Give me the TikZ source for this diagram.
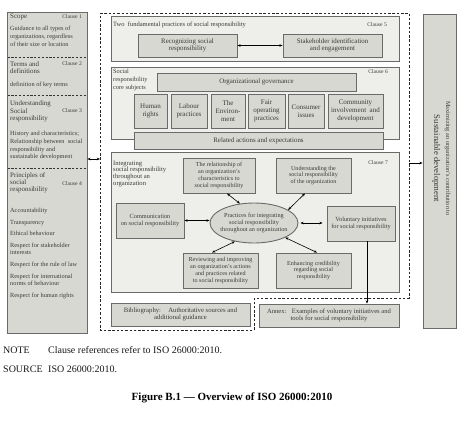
\documentclass[tikz,border=0pt]{standalone}
\usepackage{fontspec}
\setmainfont{Liberation Serif}
\usetikzlibrary{arrows.meta,shapes.geometric}
\definecolor{boxfill}{HTML}{D8D8D2}
\definecolor{framefill}{HTML}{EEEEEA}
\definecolor{edgecol}{HTML}{6A6A6A}
\definecolor{txtcol}{HTML}{3A3A3A}
\newcommand\fsz[2]{\fontsize{#1}{#2}\selectfont}
\begin{document}
\begin{tikzpicture}[x=1pt,y=-1pt,
  box/.style={draw=edgecol, fill=boxfill, line width=0.9pt, align=center, text=txtcol, inner sep=0pt},
  frm/.style={draw=edgecol, fill=framefill, line width=0.8pt, inner sep=0pt},
  lbl/.style={text=txtcol, inner sep=0pt, align=left},
  clabel/.style={text=txtcol, inner sep=0pt, anchor=north east, font=\fsz{5.6}{7}},
  hdr/.style={lbl, anchor=north west, font=\fsz{6.9}{7.3}},
  small/.style={lbl, anchor=north west, font=\fsz{6.3}{7.6}},
  divline/.style={draw=black!80, line width=0.7pt, dash pattern=on 2.2pt off 1.6pt},
  dashfrm/.style={draw=black!85, line width=0.7pt, dash pattern=on 2.5pt off 1.8pt},
  tip/.style={-{Stealth[length=3.2pt,width=2.6pt]}, line width=0.6pt, black},
  dtip/.style={{Stealth[length=3.2pt,width=2.6pt]}-{Stealth[length=3.2pt,width=2.6pt]}, line width=0.6pt, black},
  bottxt/.style={inner sep=0pt, anchor=base west, font=\fsz{10}{12}, text=black!90},
]
\useasboundingbox (0,0) rectangle (474,424);
\fill[white] (0,0) rectangle (474,424);

% ---------- outer dashed outline ----------
\draw[dashfrm] (100,13) -- (409,13) -- (409,298) -- (254,298) -- (254,330) -- (100,330) -- cycle;
\coordinate (dl) at (100,159);
\coordinate (dr) at (409,163);

% ---------- left column ----------
\node[box, minimum width=80, minimum height=321] (L) at (47,172.5) {};
\draw[divline] (7.5,57) -- (86.5,57);
\draw[divline] (7.5,95) -- (86.5,95);
\draw[divline] (7.5,168) -- (86.5,168);
\node[hdr] (t1) at (10,13.8) {Scope};
\node[clabel] (c1) at (82,14.3) {Clause 1};
\node[small] (g1) at (10,26.3) {Guidance to all types of\\organizations, regardless\\of their size or location};
\node[hdr] (t2) at (10,61.3) {Terms and\\definitions};
\node[clabel] (c2) at (82,61.6) {Clause 2};
\node[small] (d2) at (10,81.6) {definition of key terms};
\node[hdr] (t3) at (10,101) {Understanding\\Social\\responsibility};
\node[clabel] (c3) at (82,108.6) {Clause 3};
\node[small] (h3) at (10,131.3) {History and characteristics;\\Relationship between~ social\\responsibility and\\sustainable development};
\node[hdr] (t4) at (10,172) {Principles of\\social\\responsibility};
\node[clabel] (c4) at (82,181.6) {Clause 4};
\node[small] (p4) at (10,208) {Accountability\\[4pt]Transparency\\[4pt]Ethical behaviour\\[4pt]Respect for stakeholder\\interests\\[4pt]Respect for the rule of law\\[4pt]Respect for international\\norms of behaviour\\[4pt]Respect for human rights};

% ---------- right column ----------
\node[box, minimum width=33, minimum height=314] (R) at (439.5,171) {};
\node[lbl, align=center, rotate=-90] (rt) at (441.5,158.5) {\fsz{6.3}{13}Maximizing an organization's contribution to\\\fsz{8.7}{13}Sustainable development};

% ---------- clause 5 ----------
\node[frm, minimum width=288, minimum height=45] (f5) at (255,38.5) {};
\node[lbl, anchor=north west, font=\fsz{6.5}{7}] (t5) at (113,22.2) {Two~ fundamental practices of social responsibility};
\node[clabel] (c5) at (387,22.6) {Clause 5};
\node[box, minimum width=99, minimum height=23, font=\fsz{6.9}{7.6}] (rec) at (187.5,45.5) {Recognizing social\\responsibility};
\node[box, minimum width=99, minimum height=23, font=\fsz{6.9}{7.6}] (stk) at (332.5,45.5) {Stakeholder identification\\and engagement};
\draw[dtip] (rec) -- (stk);

% ---------- clause 6 ----------
\node[frm, minimum width=288, minimum height=72] (f6) at (255,103) {};
\node[small, font=\fsz{6.3}{8}] (t6) at (113,69) {Social\\responsibility\\core subjects};
\node[clabel] (c6) at (388,69.6) {Clause 6};
\node[box, minimum width=199, minimum height=18, font=\fsz{6.9}{7.6}] (gov) at (256.5,82) {Organizational governance};
\begin{scope}[every node/.append style={box, minimum height=34, font=\fsz{7}{8.3}}]
\node[minimum width=33] (hr) at (150.5,111) {Human\\rights};
\node[minimum width=36] (lab) at (189,111) {Labour\\practices};
\node[minimum width=34] (env) at (228,111) {The\\Environ-\\ment};
\node[minimum width=37] (fair) at (266.5,111) {Fair\\operating\\practices};
\node[minimum width=36] (cons) at (306,111) {Consumer\\issues};
\node[minimum width=55] (comm) at (355.5,111) {Community\\involvement~ and\\development};
\end{scope}
\node[box, minimum width=249, minimum height=17, font=\fsz{6.9}{7.6}] (rel) at (258.5,140.5) {Related actions and expectations};

% ---------- clause 7 ----------
\node[frm, minimum width=288, minimum height=140] (f7) at (255,222) {};
\node[lbl, anchor=north west, font=\fsz{6.6}{6.8}] (t7) at (113,160.5) {Integrating\\social responsibility\\throughout an\\organization};
\node[clabel] (c7) at (388,160.9) {Clause 7};
\begin{scope}[every node/.append style={box, minimum height=35, font=\fsz{6.1}{6.8}}]
\node[minimum width=72] (relat) at (219,175.5) {The relationship of\\an organization's\\characteristics to\\social responsibility};
\node[minimum width=75] (under) at (313.5,175.5) {Understanding the\\social responsibility\\of the organization};
\node[minimum width=68, font=\fsz{6.3}{7.4}] (commu) at (150,220.5) {Communication\\on social responsibility};
\node[minimum width=68, font=\fsz{6.3}{7.4}] (vol) at (361,223.5) {Voluntary initiatives\\for social responsibility};
\node[minimum width=75] (rev) at (220.5,270.5) {Reviewing and improving\\an organization's actions\\and practices related\\to social responsibility};
\node[minimum width=75] (enh) at (313.5,270.5) {Enhancing credibility\\regarding social\\responsibility};
\end{scope}
\node[ellipse, draw=edgecol, fill=boxfill, line width=0.9pt, inner sep=0pt, minimum width=88, minimum height=40] (ell) at (254,223) {};
\node[lbl, align=center, font=\fsz{6.2}{6.9}] (ellt) at (254,223) {Practices for integrating\\social responsibility\\throughout an organization};
\draw[dtip] ([xshift=8pt]relat.south) -- (ell.126);
\draw[dtip] ([xshift=-8.5pt]under.south) -- (ell.21);
\draw[dtip] (commu.east) -- (commu.east -| ell.west);
\draw[dtip, shorten <=2pt, shorten >=4pt] (ell.east) -- (ell.east -| vol.west);
\draw[dtip] ([xshift=-8.5pt]rev.north) -- (ell.224);
\draw[dtip] ([xshift=3.5pt]enh.north) -- (ell.335);

% ---------- bibliography / annex ----------
\node[box, minimum width=139, minimum height=23, font=\fsz{6.7}{7.6}] (bib) at (180.5,314.5) {Bibliography:~~~ Authoritative sources and\\additional guidance};
\node[box, minimum width=140, minimum height=23, font=\fsz{6.6}{7.6}] (anx) at (329,315.5) {Annex:~~ Examples of voluntary initiatives and\\tools for social responsibility};
\coordinate (vs) at ([xshift=6pt]vol.south);
\draw[tip] (vs) -- (vs |- anx.north);

% ---------- outer connectors ----------
\draw[dtip] (L.east |- dl) -- (dl);
\draw[tip] (dr) -- (dr -| R.west);

% ---------- notes ----------
\node[bottxt] (note) at (3,353) {NOTE};
\node[bottxt] (notet) at (48,353) {Clause references refer to ISO 26000:2010.};
\node[bottxt] (src) at (3,372) {SOURCE};
\node[bottxt] (srct) at (48,372) {ISO 26000:2010.};
\node[inner sep=0pt, anchor=base, font=\fsz{11}{13}\bfseries, text=black] (cap) at (232,400.5) {Figure B.1 — Overview of ISO 26000:2010};
\end{tikzpicture}
\end{document}
